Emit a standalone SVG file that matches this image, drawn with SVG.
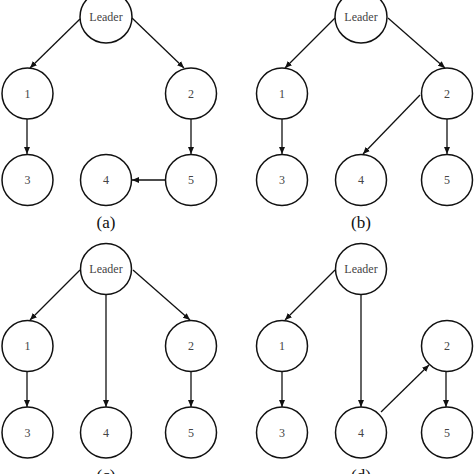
<svg xmlns="http://www.w3.org/2000/svg" width="474" height="474" viewBox="0 0 474 474">
<defs>
<marker id="ah" markerWidth="8" markerHeight="6" refX="7" refY="3" orient="auto" markerUnits="userSpaceOnUse">
<path d="M0,0 L7,3 L0,6 Z" fill="#111"/>
</marker>
<style>
.n{fill:#fff;stroke:#111;stroke-width:1.5}
.t{font-family:"Liberation Serif",serif;font-size:12px;fill:#444;text-anchor:middle;dominant-baseline:central}
.c{stroke:#111;stroke-width:1.3;fill:none;marker-end:url(#ah)}
.cap{font-family:"Liberation Serif",serif;font-size:17px;fill:#111;text-anchor:middle}
</style>
</defs>
<rect width="474" height="474" fill="#fff"/>
<g id="connectors">
<!-- (a) -->
<line class="c" x1="80" y1="19" x2="30" y2="68"/>
<line class="c" x1="132" y1="18" x2="184" y2="68"/>
<line class="c" x1="27" y1="119" x2="27" y2="154"/>
<line class="c" x1="191" y1="119" x2="191" y2="154"/>
<line class="c" x1="165" y1="180" x2="132" y2="180"/>
<!-- (b) -->
<line class="c" x1="335" y1="18" x2="285" y2="68"/>
<line class="c" x1="388" y1="18" x2="445" y2="68"/>
<line class="c" x1="282" y1="119" x2="282" y2="154"/>
<line class="c" x1="447" y1="119" x2="447" y2="154"/>
<line class="c" x1="420" y1="95" x2="363" y2="154"/>
<!-- (c) -->
<line class="c" x1="80" y1="270" x2="30" y2="320"/>
<line class="c" x1="133" y1="270" x2="190" y2="320"/>
<line class="c" x1="106" y1="295" x2="106" y2="407"/>
<line class="c" x1="27" y1="372" x2="27" y2="407"/>
<line class="c" x1="191" y1="372" x2="191" y2="407"/>
<!-- (d) -->
<line class="c" x1="335" y1="270" x2="285" y2="320"/>
<line class="c" x1="361" y1="295" x2="361" y2="407"/>
<line class="c" x1="282" y1="372" x2="282" y2="407"/>
<line class="c" x1="446" y1="372" x2="446" y2="407"/>
<line class="c" x1="381" y1="412" x2="429" y2="365"/>
</g>
<!-- panel a -->
<g id="a-leader"><circle class="n" cx="106" cy="17" r="26"/><text class="t" x="106" y="17">Leader</text></g>
<g id="a-1"><circle class="n" cx="27.5" cy="93.5" r="25.5"/><text class="t" x="27.5" y="93.5">1</text></g>
<g id="a-2"><circle class="n" cx="191" cy="93.5" r="25.5"/><text class="t" x="191" y="93.5">2</text></g>
<g id="a-3"><circle class="n" cx="27.5" cy="180" r="25.5"/><text class="t" x="27.5" y="180">3</text></g>
<g id="a-4"><circle class="n" cx="106" cy="180" r="25.5"/><text class="t" x="106" y="180">4</text></g>
<g id="a-5"><circle class="n" cx="191" cy="180" r="25.5"/><text class="t" x="191" y="180">5</text></g>
<text class="cap" x="106" y="228">(a)</text>
<!-- panel b -->
<g id="b-leader"><circle class="n" cx="361" cy="17" r="26"/><text class="t" x="361" y="17">Leader</text></g>
<g id="b-1"><circle class="n" cx="282" cy="93.5" r="25.5"/><text class="t" x="282" y="93.5">1</text></g>
<g id="b-2"><circle class="n" cx="447" cy="93.5" r="25.5"/><text class="t" x="447" y="93.5">2</text></g>
<g id="b-3"><circle class="n" cx="282" cy="180" r="25.5"/><text class="t" x="282" y="180">3</text></g>
<g id="b-4"><circle class="n" cx="361" cy="180" r="25.5"/><text class="t" x="361" y="180">4</text></g>
<g id="b-5"><circle class="n" cx="447" cy="180" r="25.5"/><text class="t" x="447" y="180">5</text></g>
<text class="cap" x="361" y="228">(b)</text>
<!-- panel c -->
<g id="c-leader"><circle class="n" cx="106" cy="269" r="25.5"/><text class="t" x="106" y="269">Leader</text></g>
<g id="c-1"><circle class="n" cx="27.5" cy="346" r="25.5"/><text class="t" x="27.5" y="346">1</text></g>
<g id="c-2"><circle class="n" cx="191" cy="346" r="25.5"/><text class="t" x="191" y="346">2</text></g>
<g id="c-3"><circle class="n" cx="27.5" cy="432.5" r="25.5"/><text class="t" x="27.5" y="432.5">3</text></g>
<g id="c-4"><circle class="n" cx="106" cy="432.5" r="25.5"/><text class="t" x="106" y="432.5">4</text></g>
<g id="c-5"><circle class="n" cx="191" cy="432.5" r="25.5"/><text class="t" x="191" y="432.5">5</text></g>
<text class="cap" x="106" y="481">(c)</text>
<!-- panel d -->
<g id="d-leader"><circle class="n" cx="361" cy="269" r="25.5"/><text class="t" x="361" y="269">Leader</text></g>
<g id="d-1"><circle class="n" cx="282" cy="346" r="25.5"/><text class="t" x="282" y="346">1</text></g>
<g id="d-2"><circle class="n" cx="447" cy="346" r="25.5"/><text class="t" x="447" y="346">2</text></g>
<g id="d-3"><circle class="n" cx="282" cy="432.5" r="25.5"/><text class="t" x="282" y="432.5">3</text></g>
<g id="d-4"><circle class="n" cx="361" cy="432.5" r="25.5"/><text class="t" x="361" y="432.5">4</text></g>
<g id="d-5"><circle class="n" cx="447" cy="432.5" r="25.5"/><text class="t" x="447" y="432.5">5</text></g>
<text class="cap" x="361" y="481">(d)</text>
</svg>
